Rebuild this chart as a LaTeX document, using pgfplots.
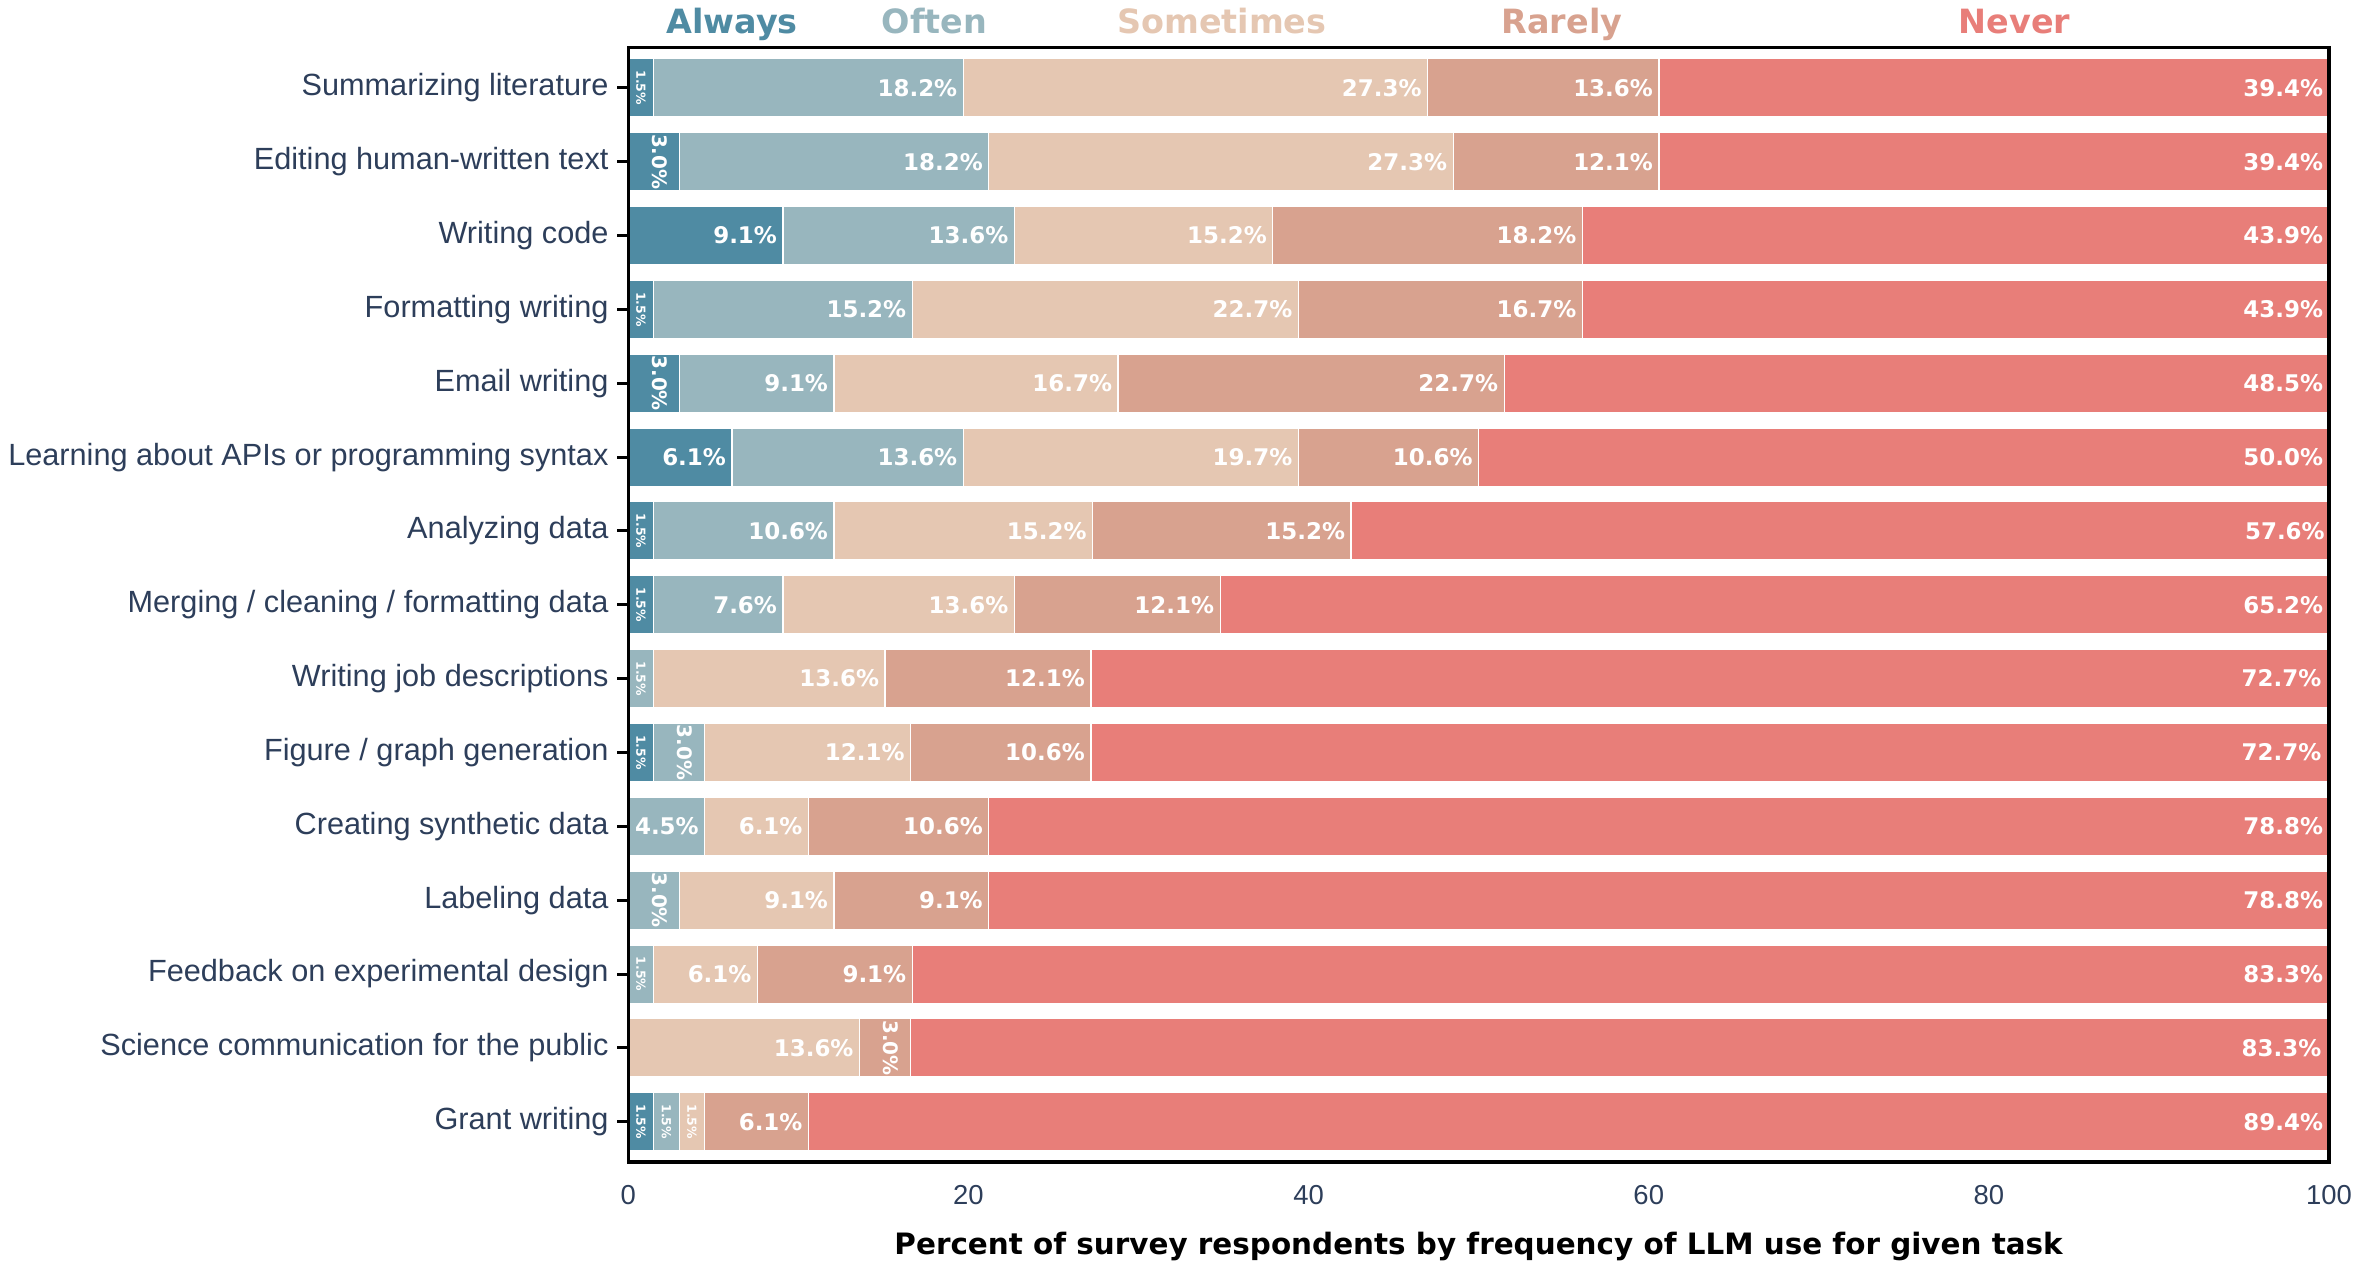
\documentclass[border=0pt]{standalone}
\usepackage{fontspec}
\setmainfont{Liberation Sans}
\newfontfamily\dvb{DejaVu Sans}
\usepackage{graphicx}
\usepackage{pgfplots}
\pgfplotsset{compat=1.18}
\definecolor{cAlways}{HTML}{4F8BA3}
\definecolor{cOften}{HTML}{98B6BE}
\definecolor{cSometimes}{HTML}{E5C7B2}
\definecolor{cRarely}{HTML}{D8A28F}
\definecolor{cNever}{HTML}{E87E79}
\definecolor{navy}{HTML}{2D3E5A}
\newcommand\mylab{%
  \pgfmathfloatifflags{\pgfplotspointmeta}{0}{}{%
    \pgfmathfloattofixed{\pgfplotspointmeta}%
    \edef\myval{\pgfmathresult}%
    \ifdim\myval pt<2pt
      \rotatebox{-90}{\fontsize{5}{6}\selectfont\pgfmathprintnumber[fixed,fixed zerofill,precision=1]{\pgfplotspointmeta}\%}\hbox to 0.8pt{}%
    \else\ifdim\myval pt<4pt
      \rotatebox{-90}{\fontsize{8}{9}\selectfont\pgfmathprintnumber[fixed,fixed zerofill,precision=1]{\pgfplotspointmeta}\%}\hbox to 2.5pt{}%
    \else
      \pgfmathprintnumber[fixed,fixed zerofill,precision=1]{\pgfplotspointmeta}\%%
    \fi\fi}}
\begin{document}
\begin{tikzpicture}
\begin{axis}[
  scale only axis, width=682pt, height=446.8pt,
  xbar stacked, bar width=0.79,
  xmin=0, xmax=100, ymin=-0.544, ymax=14.544, y dir=reverse,
  clip=false, axis on top,
  ytick={0,...,14},
  yticklabels={Summarizing literature, Editing human-written text, Writing code, Formatting writing, Email writing, Learning about APIs or programming syntax, Analyzing data, Merging / cleaning / formatting data, Writing job descriptions, Figure / graph generation, Creating synthetic data, Labeling data, Feedback on experimental design, Science communication for the public, Grant writing},
  xtick={0,20,40,60,80,100},
  /pgf/number format/assume math mode=true,
  tick align=outside, major tick length=4.4pt,
  ytick pos=left, xtick pos=bottom,
  x tick style={draw=none},
  y tick style={black, line width=1.2pt},
  axis line style={black, line width=1.3pt},
  y tick label style={font=\fontsize{12.3}{14}\selectfont, text=navy},
  x tick label style={font=\fontsize{11}{13}\selectfont, text=navy, yshift=-1.5pt},
  xlabel={Percent of survey respondents by frequency of LLM use for given task},
  xlabel style={at={(axis description cs:0.5,0)}, anchor=base, yshift=-37pt, font=\dvb\bfseries\fontsize{11.8}{13}\selectfont},
  every axis plot/.append style={draw=white, line width=0.5pt},
  visualization depends on={rawx \as \rx},
  nodes near coords={\mylab},
  every node near coord/.append style={anchor=east, xshift={\rx*3.41pt}, inner sep=2.2pt, text=white, font=\dvb\bfseries\fontsize{9.2}{10}\selectfont},
]
\addplot[fill=cAlways] coordinates {(1.5,0) (3.0,1) (9.1,2) (1.5,3) (3.0,4) (6.1,5) (1.5,6) (1.5,7) (0,8) (1.5,9) (0,10) (0,11) (0,12) (0,13) (1.5,14)};
\addplot[fill=cOften] coordinates {(18.2,0) (18.2,1) (13.6,2) (15.2,3) (9.1,4) (13.6,5) (10.6,6) (7.6,7) (1.5,8) (3.0,9) (4.5,10) (3.0,11) (1.5,12) (0,13) (1.5,14)};
\addplot[fill=cSometimes] coordinates {(27.3,0) (27.3,1) (15.2,2) (22.7,3) (16.7,4) (19.7,5) (15.2,6) (13.6,7) (13.6,8) (12.1,9) (6.1,10) (9.1,11) (6.1,12) (13.6,13) (1.5,14)};
\addplot[fill=cRarely] coordinates {(13.6,0) (12.1,1) (18.2,2) (16.7,3) (22.7,4) (10.6,5) (15.2,6) (12.1,7) (12.1,8) (10.6,9) (10.6,10) (9.1,11) (9.1,12) (3.0,13) (6.1,14)};
\addplot[fill=cNever] coordinates {(39.4,0) (39.4,1) (43.9,2) (43.9,3) (48.5,4) (50.0,5) (57.6,6) (65.2,7) (72.7,8) (72.7,9) (78.8,10) (78.8,11) (83.3,12) (83.3,13) (89.4,14)};
\coordinate (sw) at (axis description cs:0,0);
\coordinate (ne) at (axis description cs:1,1);
\node[anchor=base, yshift=5.6pt, text=cAlways, font=\dvb\bfseries\fontsize{13.4}{15}\selectfont] at (axis description cs:0.0610,1) {Always};
\node[anchor=base, yshift=5.6pt, text=cOften, font=\dvb\bfseries\fontsize{13.4}{15}\selectfont] at (axis description cs:0.1800,1) {Often};
\node[anchor=base, yshift=5.6pt, text=cSometimes, font=\dvb\bfseries\fontsize{13.4}{15}\selectfont] at (axis description cs:0.3490,1) {Sometimes};
\node[anchor=base, yshift=5.6pt, text=cRarely, font=\dvb\bfseries\fontsize{13.4}{15}\selectfont] at (axis description cs:0.5490,1) {Rarely};
\node[anchor=base, yshift=5.6pt, text=cNever, font=\dvb\bfseries\fontsize{13.4}{15}\selectfont] at (axis description cs:0.8150,1) {Never};
\end{axis}
\path ([xshift=-249.6pt,yshift=-41.2pt]sw) rectangle ([xshift=13.2pt,yshift=18.4pt]ne);
\end{tikzpicture}
\end{document}
